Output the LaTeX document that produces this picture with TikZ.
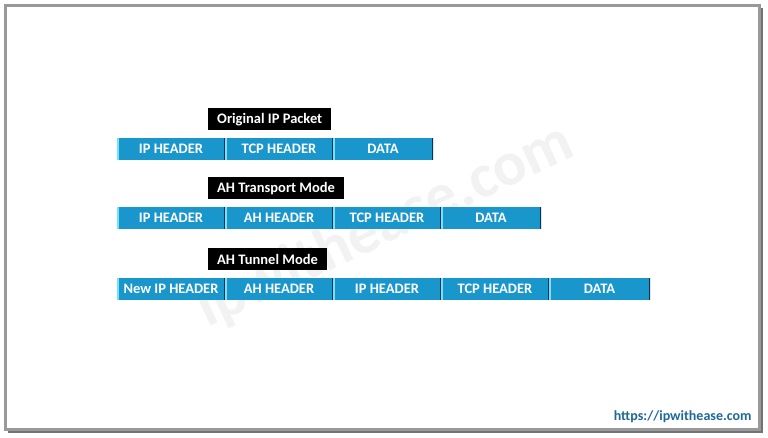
\documentclass[tikz,border=0pt]{standalone}
\usepackage{fontspec}
\usepackage{tikz}
\usetikzlibrary{positioning}
\usetikzlibrary{calc}
\newfontfamily\calibri{Carlito}
\definecolor{ipblue}{RGB}{25,150,204}
\definecolor{iplight}{RGB}{120,225,250}
\definecolor{ipdark}{RGB}{15,50,80}
\definecolor{urlblue}{RGB}{30,105,150}
\tikzset{
  field/.style={draw=none, fill=ipblue, minimum width=108pt, minimum height=22pt, inner sep=0pt, outer sep=0pt,
    text=white, font=\calibri\bfseries\fontsize{14.5}{16}\selectfont,
    path picture={
      \draw[iplight, line width=3pt] (path picture bounding box.north west) -- (path picture bounding box.south west);
      \draw[ipdark, line width=3pt] (path picture bounding box.north east) -- (path picture bounding box.south east);
    }},
  tag/.style={fill=black, text=white, minimum height=22pt, inner xsep=9pt, inner ysep=0pt, anchor=north west,
    font=\calibri\bfseries\fontsize{14.5}{16}\selectfont}
}
\begin{document}
\begin{tikzpicture}[x=1pt, y=-1pt]
\useasboundingbox (0,0) rectangle (768,437);
\fill[white] (0,0) rectangle (768,437);
% frame
\draw[black!55, line width=2.5pt] (762,8) -- (762,432) -- (8,432);
\draw[black!40, line width=3pt] (5,5) rectangle (759,429);

% watermark
\node[rotate=25, text=black!5, font=\calibri\bfseries\fontsize{62}{70}\selectfont] (wm) at (385,226) {ipwithease.com};

% original packet
\node[tag] (t1) at (208,108) {Original IP Packet};
\node[field, anchor=north west] (a1) at (117,138) {IP HEADER};
\node[field, right=0pt of a1] (a2) {TCP HEADER};
\node[field, right=0pt of a2, minimum width=100pt] (a3) {DATA};

% transport mode
\node[tag] (t2) at (208,177) {AH Transport Mode};
\node[field, anchor=north west] (b1) at (117,207) {IP HEADER};
\node[field, right=0pt of b1] (b2) {AH HEADER};
\node[field, right=0pt of b2] (b3) {TCP HEADER};
\node[field, right=0pt of b3, minimum width=100pt] (b4) {DATA};

% tunnel mode
\node[tag] (t3) at (208,248) {AH Tunnel Mode};
\node[field, anchor=north west] (c1) at (117,278) {New IP HEADER};
\node[field, right=0pt of c1] (c2) {AH HEADER};
\node[field, right=0pt of c2] (c3) {IP HEADER};
\node[field, right=0pt of c3] (c4) {TCP HEADER};
\node[field, right=0pt of c4, minimum width=101pt] (c5) {DATA};

\node[anchor=base east, text=urlblue, font=\calibri\bfseries\fontsize{14}{16}\selectfont] (url) at (755,420) {https://ipwithease.com};
\end{tikzpicture}
\end{document}
